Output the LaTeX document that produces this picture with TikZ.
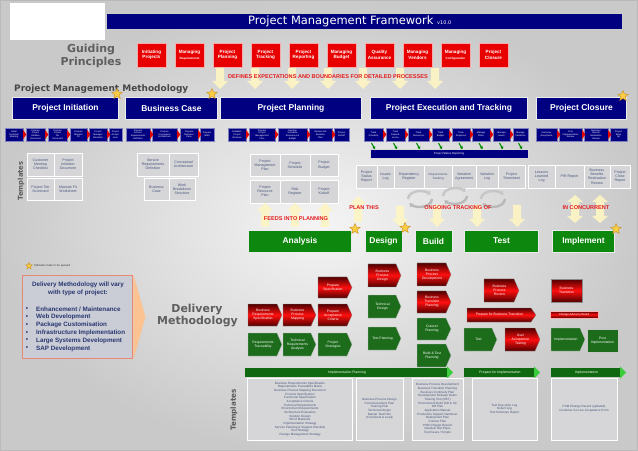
\documentclass[tikz,border=0pt]{standalone}
\usepackage{fontspec}
\setmainfont{Liberation Sans}
\newfontfamily\dvs{DejaVu Sans}
\usetikzlibrary{shadings,arrows.meta,calc}
\newcommand\myfs[2]{\fontsize{#1}{#2}\selectfont}
\definecolor{mNavy}{RGB}{0,0,128}
\definecolor{pRed}{RGB}{232,0,0}
\definecolor{prinB}{RGB}{248,170,170}
\definecolor{chDark}{RGB}{80,0,0}
\definecolor{chRed}{RGB}{255,15,15}
\definecolor{chGreen}{RGB}{28,108,28}
\definecolor{phGreen}{RGB}{14,135,14}
\definecolor{tmplTxt}{RGB}{70,85,122}
\definecolor{tmplFill}{RGB}{214,214,217}
\definecolor{yel}{RGB}{253,245,195}
\definecolor{starY}{RGB}{250,205,70}
\definecolor{starO}{RGB}{200,140,30}
\definecolor{hdrRed}{RGB}{228,28,28}
\definecolor{dmTxt}{RGB}{40,55,112}
\definecolor{dmFill}{RGB}{202,205,214}
\definecolor{dmLine}{RGB}{232,135,115}
\definecolor{peach}{RGB}{250,195,145}
\definecolor{barG}{RGB}{16,105,16}
\definecolor{tipG}{RGB}{60,205,60}
\definecolor{gpTxt}{RGB}{95,95,95}
\newcommand\bx[7]{\node[#1,minimum width={#5-#3},minimum height={#6-#4}] (#2) at ({(#3+#5)/2},{(#4+#6)/2}) {#7};}
\newcommand\chev[8]{\path[#1] (#3,#4) -- ({#5-#7},#4) -- (#5,{(#4+#6)/2}) -- ({#5-#7},#6) -- (#3,#6) -- cycle;
  \node[chtxt] (#2) at ({(#3+#5-#7)/2+0.5},{(#4+#6)/2}) {#8};}
\newcommand\lbar[6]{\fill[barG] (#2,#3) rectangle ({#4-5},#5);
  \fill[tipG] ({#4-6},{#3-1.5}) -- (#4,{(#3+#5)/2}) -- ({#4-6},{#5+1.5}) -- cycle;
  \node[chtxt,font=\myfs{3.4}{4}] (#1) at ({(#2+#4)/2-2},{(#3+#5)/2}) {#6};}
\newcommand\ydown[3]{\fill[yarr] ({#1-4},#2) -- ({#1+4},#2) -- ({#1+4},{#3-8}) -- ({#1+8},{#3-8}) -- (#1,#3) -- ({#1-8},{#3-8}) -- ({#1-4},{#3-8}) -- cycle;}
\newcommand\yup[3]{\fill[yarr] ({#1-4},#2) -- ({#1+4},#2) -- ({#1+4},{#3+8}) -- ({#1+8},{#3+8}) -- (#1,#3) -- ({#1-8},{#3+8}) -- ({#1-4},{#3+8}) -- cycle;}
\newcommand\ydbl[3]{\fill[yarr] (#1,#2) -- ({#1+8},{#2+7}) -- ({#1+4},{#2+7}) -- ({#1+4},{#3-7}) -- ({#1+8},{#3-7}) -- (#1,#3) -- ({#1-8},{#3-7}) -- ({#1-4},{#3-7}) -- ({#1-4},{#2+7}) -- ({#1-8},{#2+7}) -- cycle;}
\newcommand\gstar[3]{\filldraw[fill=starY,draw=starO,line width=0.4] (#1,#2) +(-90:#3) -- +(-54:{0.45*#3}) -- +(-18:#3) -- +(18:{0.45*#3}) -- +(54:#3) -- +(90:{0.45*#3}) -- +(126:#3) -- +(162:{0.45*#3}) -- +(198:#3) -- +(234:{0.45*#3}) -- cycle;}
\newcommand\cyc[2]{\draw[gray!55,line width=2.4,-{Triangle[length=3.5,width=5]}] ({#1+12},#2) arc[start angle=0,end angle=150,x radius=12,y radius=8];
  \draw[gray!45,line width=2.4,-{Triangle[length=3.5,width=5]}] ({#1-12},#2) arc[start angle=180,end angle=330,x radius=12,y radius=8];}
\tikzset{
 prin/.style={draw=prinB,line width=0.8,fill=pRed,text=white,font=\bfseries\myfs{4.6}{5.6},align=center,inner sep=0pt},
 hdr/.style={draw=white!85!gray,line width=0.9,fill=mNavy,text=white,font=\bfseries\myfs{8.5}{10},inner sep=0pt},
 stepbox/.style={fill=mNavy,draw=mNavy!50!white,line width=0.3,text=white,font=\myfs{2.3}{2.7},align=center,inner sep=0pt},
 tmpl/.style={fill=tmplFill,draw=white,line width=0.7,text=tmplTxt,font=\myfs{3.6}{4.2},align=center,inner sep=0pt},
 btmpl/.style={fill=tmplFill,draw=white,line width=0.7,text=tmplTxt,font=\myfs{3.05}{3.68},align=center,inner sep=0pt},
 phase/.style={fill=phGreen,draw=white!85!gray,line width=0.8,text=white,font=\bfseries\myfs{8.5}{10},inner sep=0pt},
 chR/.style={top color=chDark,bottom color=chDark,middle color=chRed,draw=black!45,line width=0.3},
 chG/.style={fill=chGreen,draw=white!55!gray,line width=0.3},
 chtxt/.style={text=white,font=\myfs{3.4}{4.1},align=center,inner sep=0pt},
 yarr/.style={fill=yel,fill opacity=0.92},
 redlbl/.style={text=hdrRed,font=\bfseries\myfs{5.6}{6},inner sep=0pt},
 dmline/.style={text=dmTxt,font=\bfseries\myfs{6.3}{7},inner sep=0pt},
 big/.style={text=gpTxt,font=\dvs\bfseries\myfs{11}{12},inner sep=0pt}
}
\begin{document}
\begin{tikzpicture}[x=1bp,y=-1bp]
\useasboundingbox (0,0) rectangle (638,451);
\fill[inner color=gray!8,outer color=gray!42] (0,0) rectangle (638,451);
\draw[gray!55,line width=1.5] (0.75,0.75) rectangle (637.25,450.25);
\fill[white] (10,3) rectangle (105,40);
% title
\bx{fill=mNavy,draw=gray!40,line width=0.5}{titlebar}{105}{13}{623}{29}{}
\node[anchor=west,text=white,font=\dvs\myfs{11.5}{12},inner sep=0pt] (title) at (248,21.5) {Project Management Framework {\myfs{5}{6}v10.0}};
% guiding principles
\node[big] (gp1) at (91,50) {Guiding};
\node[big] (gp2) at (91,62) {Principles};
\bx{prin}{p1}{137}{43}{166}{67}{Initiating\\Projects}
\bx{prin}{p2}{175}{43}{204}{67}{Managing\\{\myfs{3}{4}Requirements}}
\bx{prin}{p3}{213}{43}{242}{67}{Project\\Planning}
\bx{prin}{p4}{251}{43}{280}{67}{Project\\Tracking}
\bx{prin}{p5}{289}{43}{318}{67}{Project\\Reporting}
\bx{prin}{p6}{327}{43}{356}{67}{Managing\\Budget}
\bx{prin}{p7}{365}{43}{394}{67}{Quality\\Assurance}
\bx{prin}{p8}{403}{43}{432}{67}{Managing\\Vendors}
\bx{prin}{p9}{441}{43}{470}{67}{Managing\\{\myfs{3}{4}Configuration}}
\bx{prin}{p10}{479}{43}{508}{67}{Project\\Closure}
\foreach \x in {220,255,292,328,363,400,435} {\ydown{\x}{68}{89}}
\node[redlbl] (defines) at (328,77) {DEFINES EXPECTATIONS AND BOUNDARIES FOR DETAILED PROCESSES};
% methodology
\node[anchor=west,text=black!72,font=\dvs\bfseries\myfs{9}{10},inner sep=0pt] (pmm) at (14,89) {Project Management Methodology};
\bx{hdr}{h1}{12}{97}{119}{119}{Project Initiation}
\bx{hdr}{h2}{125}{97}{218}{119}{Business Case}
\bx{hdr}{h3}{220}{97}{362}{119}{Project Planning}
\bx{hdr}{h4}{370}{97}{528}{119}{Project Execution and Tracking}
\bx{hdr}{h5}{536}{97}{627}{119}{Project Closure}
\gstar{117}{94}{5.5}
\gstar{212}{94}{5.5}
\gstar{623}{96}{5.5}
% steps
\bx{stepbox}{s1}{5}{128}{23}{141}{Initial\\Customer\\Meeting}
\bx{stepbox}{s2}{26}{128}{45}{141}{Prepare\\Project\\Initiation\\Document}
\bx{stepbox}{s3}{48}{128}{67}{141}{Prepare\\Project\\Tier\\Scorecard}
\bx{stepbox}{s4}{70}{128}{87}{141}{Prepare\\Maestro\\Fit}
\bx{stepbox}{s5}{89}{128}{107}{141}{Project\\Manager\\Allocation}
\bx{stepbox}{s6}{109}{128}{122}{141}{Project\\Accept-\\ance}
\bx{stepbox}{s7}{126}{128}{150}{141}{Prepare\\Service\\Requirements\\Definition}
\bx{stepbox}{s8}{152}{128}{177}{141}{Prepare\\Conceptual\\Architecture}
\bx{stepbox}{s9}{180}{128}{198}{141}{Prepare\\Business\\Case}
\bx{stepbox}{s10}{200}{128}{214}{141}{Prepare\\WBS}
\bx{stepbox}{s11}{228}{128}{246}{141}{Establish\\Project\\Structure}
\bx{stepbox}{s12}{249}{128}{275}{141}{Prepare\\Project\\Management\\Plan}
\bx{stepbox}{s13}{278}{128}{307}{141}{Develop\\Schedule\\Resources \&\\Budget}
\bx{stepbox}{s14}{309}{128}{332}{141}{Review and\\Baseline\\Plan}
\bx{stepbox}{s15}{334}{128}{349}{141}{Project\\Kickoff}
\bx{stepbox}{s16}{364}{128}{383}{141}{Track\\Schedule}
\bx{stepbox}{s17}{386}{128}{405}{141}{Track\\Depend-\\encies}
\bx{stepbox}{s18}{408}{128}{429}{141}{Track\\Resources}
\bx{stepbox}{s19}{432}{128}{449}{141}{Track\\Budget}
\bx{stepbox}{s20}{452}{128}{470}{141}{Track\\Response}
\bx{stepbox}{s21}{472}{128}{490}{141}{Manage\\Risks}
\bx{stepbox}{s22}{493}{128}{510}{141}{Manage\\Issues}
\bx{stepbox}{s23}{513}{128}{528}{141}{Manage\\Variations}
\bx{stepbox}{s24}{536}{128}{557}{141}{Customer\\Acceptance}
\bx{stepbox}{s25}{559}{128}{582}{141}{Post\\Implementation\\Review}
\bx{stepbox}{s26}{584}{128}{608}{141}{Business\\Benefit\\Realisation\\Review}
\bx{stepbox}{s27}{610}{128}{627}{141}{Project\\Wrap\\Up}
\foreach \a in {s1,s2,s3,s4,s5,s7,s8,s9,s11,s12,s13,s14,s16,s17,s18,s19,s20,s21,s22,s24,s25,s26}
  {\fill[red!90!black] ($(\a.east)+(0,-4.5)$) -- ($(\a.east)+(3.2,0)$) -- ($(\a.east)+(0,4.5)$) -- cycle;}
\foreach \a in {s16,s17,s18,s19,s20,s21,s22,s23}
  {\draw[green!55!black,line width=1.1,-{Triangle[length=2.4,width=3.2]}] ($(\a.south)+(-2,2)$) -- ($(\a.south)+(1.5,8)$);}
\bx{fill=mNavy,draw=white!70!gray,line width=0.4,text=white,font=\myfs{2.8}{3}}{psr}{370}{150}{528}{157}{Project Status Reporting}
% top templates
\node[text=black!65,font=\dvs\bfseries\myfs{6.8}{7},rotate=90,inner sep=0pt] (tpl1) at (21,181) {Templates};
\bx{tmpl}{t1}{27}{153}{54}{176}{Customer\\Meeting\\Checklist}
\bx{tmpl}{t2}{54}{153}{82}{176}{Project\\Initiation\\Document}
\bx{tmpl}{t3}{27}{178}{54}{200}{Project Tier\\Scorecard}
\bx{tmpl}{t4}{54}{178}{82}{200}{Maestro Fit\\Worksheet}
\bx{tmpl}{t5}{137}{153}{169}{176}{Service\\Requirements\\Definition}
\bx{tmpl}{t6}{169}{153}{198}{176}{Conceptual\\Architecture}
\bx{tmpl}{t7}{144}{178}{169}{200}{Business\\Case}
\bx{tmpl}{t8}{169}{178}{195}{200}{Work\\Breakdown\\Structure}
\bx{tmpl}{t9}{250}{154}{280}{176}{Project\\Management\\Plan}
\bx{tmpl}{t10}{280}{154}{310}{176}{Project\\Schedule}
\bx{tmpl}{t11}{310}{154}{338}{176}{Project\\Budget}
\bx{tmpl}{t12}{250}{180}{280}{203}{Project\\Resource\\Plan}
\bx{tmpl}{t13}{280}{180}{310}{203}{Risk\\Register}
\bx{tmpl}{t14}{310}{180}{338}{203}{Project\\Kickoff}
\bx{tmpl}{t15}{356}{165}{377}{188}{Project\\Status\\Report}
\bx{tmpl}{t16}{377}{165}{394}{188}{Issues\\Log}
\bx{tmpl}{t17}{394}{165}{424}{188}{Dependency\\Register}
\bx{tmpl,font=\myfs{3}{3.6}}{t18}{424}{165}{452}{188}{Requirements\\Tracking}
\bx{tmpl}{t19}{452}{165}{476}{188}{Variation\\Agreement}
\bx{tmpl}{t20}{476}{165}{498}{188}{Variation\\Log}
\bx{tmpl}{t21}{498}{165}{525}{188}{Project\\Timesheet}
\bx{tmpl}{t22}{528}{165}{555}{188}{Lessons\\Learned\\Log}
\bx{tmpl}{t23}{555}{165}{584}{188}{PIR Report}
\bx{tmpl}{t24}{584}{165}{610}{188}{Business\\Benefits\\Realisation\\Review}
\bx{tmpl}{t25}{610}{165}{630}{188}{Project\\Close\\Report}
% middle arrows and labels
\foreach \x in {265,295,325} {\yup{\x}{227}{203}}
\yup{358}{222}{196}
\ydown{400}{206}{227}
\foreach \x in {437,477,517} {\ydown{\x}{205}{227}}
\ydbl{575}{195}{223}
\ydbl{600}{195}{223}
\cyc{420}{199}
\cyc{455}{196}
\cyc{493}{199}
\node[redlbl] (feeds) at (296,219) {FEEDS INTO PLANNING};
\node[redlbl] (planthis) at (364,207.5) {PLAN THIS};
\node[redlbl] (ongoing) at (458,208) {ONGOING TRACKING OF};
\node[redlbl] (concur) at (586,208) {IN CONCURRENT};
% delivery phases
\bx{phase}{d1}{248}{230}{352}{252}{Analysis}
\bx{phase}{d2}{365}{230}{402}{252}{Design}
\bx{phase}{d3}{415}{230}{452}{252}{Build}
\bx{phase}{d4}{464}{230}{539}{252}{Test}
\bx{phase}{d5}{552}{230}{615}{252}{Implement}
\gstar{355}{229}{5.5}
\gstar{405}{228}{5.5}
\gstar{616}{229}{5.5}
% legend
\gstar{29}{266}{3.5}
\node[anchor=west,text=black!75,font=\myfs{2.9}{3.2},inner sep=0pt] (legend) at (34,266) {Indicates Gate to be passed};
% delivery methodology box
\bx{draw=dmLine,line width=1.3,fill=dmFill,inner sep=0pt}{dmbox}{22}{275}{133}{359}{}
\fill[peach] (dmbox.north east) -- ($(dmbox.east)+(12,0)$) -- (dmbox.south east) -- cycle;
\node[dmline] (dl1) at (78,285) {Delivery Methodology will vary};
\node[dmline] (dl2) at (78,293) {with type of project:};
\foreach \t [count=\i] in {Enhancement / Maintenance,Web Development,Package Customisation,Infrastructure Implementation,Large Systems Development,SAP Development}
  {\node[dmline] (bu\i) at (27,{301+7.9*\i}) {\textbullet};
   \node[dmline,anchor=west] (bl\i) at (36,{301+7.9*\i}) {\t};}
\node[big] (dm1) at (197,310) {Delivery};
\node[big] (dm2) at (197.5,322) {Methodology};
% chevrons
\chev{chR}{c1}{318}{277}{352}{298}{5}{Prepare\\Specification}
\chev{chR}{c2}{248}{304}{282}{326}{5}{Business\\Requirements\\Specification}
\chev{chR}{c3}{283}{304}{316}{326}{5}{Business\\Process\\Mapping}
\chev{chR}{c4}{318}{304}{352}{326}{5}{Prepare\\Acceptance\\Criteria}
\chev{chG}{c5}{248}{333}{282}{356}{5}{Requirements\\Traceability}
\chev{chG}{c6}{283}{333}{316}{356}{5}{Technical\\Requirements\\Analysis}
\chev{chG}{c7}{318}{333}{352}{356}{5}{Project\\Strategies}
\chev{chR}{c8}{368}{264}{401}{287}{5}{Business\\Process\\Design}
\chev{chG}{c9}{368}{295}{401}{318}{5}{Technical\\Design}
\chev{chG}{c10}{368}{327}{401}{350}{5}{Test Planning}
\chev{chR}{c11}{417}{263}{451}{286}{5}{Business\\Process\\Development}
\chev{chR}{c12}{417}{291}{451}{313}{5}{Business\\Transition\\Planning}
\chev{chG}{c13}{417}{318}{451}{340}{5}{Cutover\\Planning}
\chev{chG}{c14}{417}{344}{451}{367}{5}{Build \& Test\\Planning}
\chev{chR}{c15}{484}{279}{519}{302}{5}{Business\\Process\\Review}
\chev{chR}{c16}{467}{308}{536}{322}{5}{Prepare for Business Transition}
\chev{chG}{c17}{464}{328}{497}{351}{5}{Test}
\chev{chR}{c18}{505}{328}{540}{351}{5}{User\\Acceptance\\Testing}
\chev{chG}{c19}{551}{328}{585}{351}{5}{Implementation}
\bx{chR,chtxt}{r1}{551}{279}{582}{302}{Business\\Transition}
\bx{chR,chtxt,draw=white!70!red,line width=0.6,font=\myfs{2.9}{3}}{r2}{550}{311}{598}{318}{Change Advisory Board}
\bx{chG,chtxt}{r3}{587}{329}{618}{352}{Post\\Implementation}
% bottom bars
\lbar{b1}{245}{368}{453}{377}{Implementation Planning}
\lbar{b2}{464}{368}{540}{377}{Prepare for Implementation}
\lbar{b3}{551}{368}{626}{377}{Implementation}
% bottom templates
\node[text=black!65,font=\dvs\bfseries\myfs{7.2}{8},rotate=90,inner sep=0pt] (tpl2) at (234,410) {Templates};
\bx{btmpl}{bt1}{247}{378}{353}{440}{Business Requirements Specification\\Requirements Traceability Matrix\\Business Process Mapping Document\\Process Specification\\Functional Specification\\Acceptance Criteria\\Technical Requirements\\Environment Requirements\\Architecture Evaluation\\Solution Design\\Bill of Materials\\Implementation Strategy\\Service Planning \& Support Checklist\\Test Strategy\\Change Management Strategy}
\bx{btmpl}{bt2}{356}{378}{403}{440}{Business Process Design\\Communications Plan\\Training Plan\\Technical Design\\Master Test Plan\\(Functional \& Load)}
\bx{btmpl}{bt3}{412}{378}{463}{440}{Business Process Development\\Business Transition Planning\\Business Continuity Plan\\Development Release Notes\\Training Tool (CBT)\\Environment Build (AD \& SI)\\DR Plan\\Application Manual\\Production Support Handover\\Deployment Plan\\Cutover Plan\\PSM Change Record\\Detailed Test Plans\\Test Cases / Scripts}
\bx{btmpl}{bt4}{472}{378}{537}{440}{Test Execution Log\\Defect Log\\Test Summary Report}
\bx{btmpl}{bt5}{551}{378}{617}{440}{PSM Change Record (updated)\\Customer Go Live Acceptance Form}
\end{tikzpicture}
\end{document}
